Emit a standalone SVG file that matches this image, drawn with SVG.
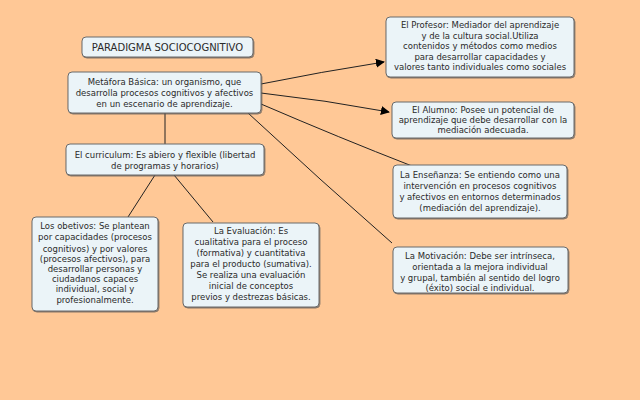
<svg xmlns="http://www.w3.org/2000/svg" width="640" height="400" viewBox="0 0 640 400">
<defs>
<marker id="arr" viewBox="0 0 10 10" refX="9" refY="5" markerWidth="9" markerHeight="9" markerUnits="userSpaceOnUse" orient="auto">
<path d="M0,0 L10,5 L0,10 z" fill="#000"/>
</marker>
<filter id="sh" x="-5%" y="-5%" width="115%" height="130%">
<feDropShadow dx="0.8" dy="1" stdDeviation="0.5" flood-color="#555" flood-opacity="0.7"/>
</filter>
</defs>
<style>
.box{fill:#EBF4F8;stroke:#6b6b6b;stroke-width:1;filter:url(#sh)}
text{font-family:"DejaVu Sans","Verdana",sans-serif;font-size:8.5px;fill:#2a2a2a;text-anchor:middle}
.c{fill:none;stroke:#222;stroke-width:1}
</style>
<rect width="640" height="400" fill="#FFC896"/>
<g id="connectors">
<path class="c" d="M165,113 L165,144"/>
<path class="c" d="M155,175 L128,217"/>
<path class="c" d="M174,175 L213,222"/>
<path class="c" d="M261,84 Q320,72 384,62" marker-end="url(#arr)"/>
<path class="c" d="M261,93 Q325,100 389,112" marker-end="url(#arr)"/>
<path class="c" d="M261,104 Q340,138 412,166"/>
<path class="c" d="M248,113 Q320,180 392,243"/>
</g>
<g id="title">
<rect class="box" x="82" y="37" width="171" height="20" rx="4"/>
<text x="167.5" y="51" style="font-size:10px">PARADIGMA SOCIOCOGNITIVO</text>
</g>
<g id="metafora">
<rect class="box" x="68" y="72" width="193" height="41" rx="4"/>
<text x="164.5" y="85">Metáfora Básica: un organismo, que</text>
<text x="164.5" y="96">desarrolla procesos cognitivos y afectivos</text>
<text x="164.5" y="106.5">en un escenario de aprendizaje.</text>
</g>
<g id="profesor">
<rect class="box" x="386" y="17" width="188" height="60" rx="4"/>
<text x="480" y="28">El Profesor: Mediador del aprendizaje</text>
<text x="480" y="38.5">y de la cultura social.Utiliza</text>
<text x="480" y="49">contenidos y métodos como medios</text>
<text x="480" y="59.5">para desarrollar capacidades y</text>
<text x="480" y="70">valores tanto individuales como sociales</text>
</g>
<g id="alumno">
<rect class="box" x="392" y="102" width="182" height="36" rx="4"/>
<text x="483" y="113">El Alumno: Posee un potencial de</text>
<text x="483" y="123">aprendizaje que debe desarrollar con la</text>
<text x="483" y="132.5">mediación adecuada.</text>
</g>
<g id="ensenanza">
<rect class="box" x="393" y="165" width="174" height="53" rx="4"/>
<text x="480" y="178">La Enseñanza: Se entiendo como una</text>
<text x="480" y="189">intervención en procesos cognitivos</text>
<text x="480" y="200">y afectivos en entornos determinados</text>
<text x="480" y="211">(mediación del aprendizaje).</text>
</g>
<g id="motivacion">
<rect class="box" x="393" y="247" width="175" height="46" rx="4"/>
<text x="480" y="259">La Motivación: Debe ser intrínseca,</text>
<text x="480" y="270">orientada a la mejora individual</text>
<text x="480" y="281">y grupal, también al sentido del logro</text>
<text x="480" y="291">(éxito) social e individual.</text>
</g>
<g id="curriculum">
<rect class="box" x="66" y="144" width="198" height="31" rx="4"/>
<text x="165" y="158">El curriculum: Es abiero y flexible (libertad</text>
<text x="165" y="169">de programas y horarios)</text>
</g>
<g id="objetivos">
<rect class="box" x="32" y="217" width="126" height="94" rx="4"/>
<text x="95" y="229">Los obetivos: Se plantean</text>
<text x="95" y="240">por capacidades (procesos</text>
<text x="95" y="251.5">cognitivos) y por valores</text>
<text x="95" y="261.5">(procesos afectivos), para</text>
<text x="95" y="271.5">desarrollar personas y</text>
<text x="95" y="281.5">ciudadanos capaces</text>
<text x="95" y="292">individual, social y</text>
<text x="95" y="303">profesionalmente.</text>
</g>
<g id="evaluacion">
<rect class="box" x="183" y="223" width="136" height="84" rx="4"/>
<text x="251" y="234">La Evaluación: Es</text>
<text x="251" y="245">cualitativa para el proceso</text>
<text x="251" y="256">(formativa) y cuantitativa</text>
<text x="251" y="267">para el producto (sumativa).</text>
<text x="251" y="278">Se realiza una evaluación</text>
<text x="251" y="289">inicial de conceptos</text>
<text x="251" y="300">previos y destrezas básicas.</text>
</g>
</svg>
